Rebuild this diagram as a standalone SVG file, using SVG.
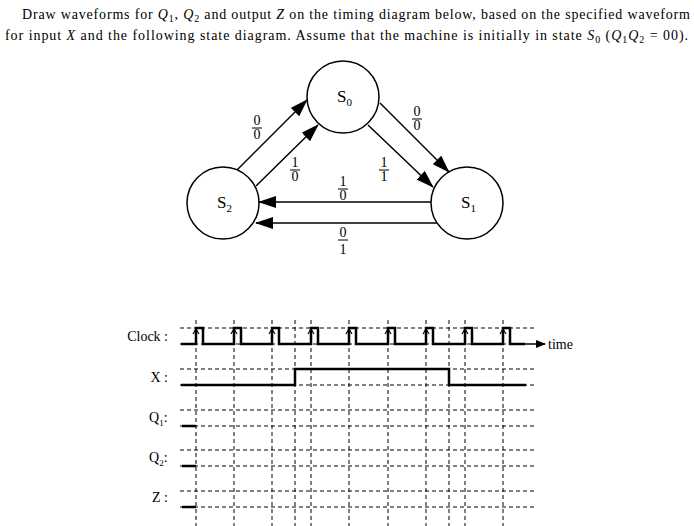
<svg xmlns="http://www.w3.org/2000/svg" width="694" height="526" viewBox="0 0 694 526">
<defs>
<marker id="ah" markerWidth="10" markerHeight="8" refX="9" refY="4" orient="auto" markerUnits="userSpaceOnUse"><path d="M0,0 L10,4 L0,8 z" fill="#000"/></marker>
<marker id="ah2" markerWidth="18" markerHeight="12" refX="17" refY="6" orient="auto" markerUnits="userSpaceOnUse"><path d="M0,0 L18,6 L0,12 z" fill="#000"/></marker>
</defs>
<style>
text{font-family:"Liberation Serif",serif;font-size:14px;fill:#000}
.st{fill:#fff;stroke:#000;stroke-width:1.5}
.e{stroke:#000;stroke-width:1.5;fill:none;marker-end:url(#ah2)}
.d{stroke:#000;stroke-width:1;stroke-dasharray:4,3;fill:none}
.w{stroke:#000;stroke-width:2.5;fill:none}
.f{font-size:14px;text-anchor:middle}
.fb{stroke:#000;stroke-width:1}
.s{font-size:17px}
</style>
<text x="22" y="19" font-size="15" textLength="668" lengthAdjust="spacing">Draw waveforms for <tspan font-style="italic">Q</tspan><tspan font-size="10" dy="3">1</tspan><tspan dy="-3">, </tspan><tspan font-style="italic">Q</tspan><tspan font-size="10" dy="3">2</tspan><tspan dy="-3"> and output </tspan><tspan font-style="italic">Z</tspan> on the timing diagram below, based on the specified waveform</text>
<text x="5" y="40" font-size="15" textLength="683" lengthAdjust="spacing">for input <tspan font-style="italic">X</tspan> and the following state diagram. Assume that the machine is initially in state <tspan font-style="italic">S</tspan><tspan font-size="10" dy="3">0</tspan><tspan dy="-3"> (</tspan><tspan font-style="italic">Q</tspan><tspan font-size="10" dy="3">1</tspan><tspan font-style="italic" dy="-3">Q</tspan><tspan font-size="10" dy="3">2</tspan><tspan dy="-3"> = 00).</tspan></text>

<g id="connectors">
<line class="e" x1="237" y1="170" x2="307" y2="100"/>
<line class="e" x1="256" y1="186" x2="318" y2="125"/>
<line class="e" x1="380" y1="103" x2="449" y2="172"/>
<line class="e" x1="368" y1="125" x2="433" y2="187"/>
<line class="e" x1="431" y1="202" x2="259" y2="202"/>
<line class="e" x1="437" y1="223" x2="256" y2="223"/>
</g>
<g id="labels">
<g><text class="f" x="257" y="125">0</text><line class="fb" x1="252" y1="128" x2="262" y2="128"/><text class="f" x="257" y="139">0</text></g>
<g><text class="f" x="295" y="167">1</text><line class="fb" x1="290" y1="170" x2="300" y2="170"/><text class="f" x="295" y="181">0</text></g>
<g><text class="f" x="417" y="116">0</text><line class="fb" x1="412" y1="119" x2="422" y2="119"/><text class="f" x="417" y="130">0</text></g>
<g><text class="f" x="384" y="167">1</text><line class="fb" x1="379" y1="170" x2="389" y2="170"/><text class="f" x="384" y="181">1</text></g>
<g><text class="f" x="343" y="186">1</text><line class="fb" x1="338" y1="189" x2="348" y2="189"/><text class="f" x="343" y="200">0</text></g>
<g><text class="f" x="343" y="237">0</text><line class="fb" x1="338" y1="240" x2="348" y2="240"/><text class="f" x="343" y="254">1</text></g>
</g>
<g id="S0"><circle class="st" cx="343" cy="97" r="36"/><text class="s" x="337" y="102">S<tspan font-size="11" dy="4">0</tspan></text></g>
<g id="S2"><circle class="st" cx="223" cy="203" r="36"/><text class="s" x="217" y="208">S<tspan font-size="11" dy="4">2</tspan></text></g>
<g id="S1"><circle class="st" cx="467" cy="203" r="36"/><text class="s" x="461" y="208">S<tspan font-size="11" dy="4">1</tspan></text></g>

<g id="timing">
<g class="d">
<line x1="180" y1="328" x2="535" y2="328"/><line x1="180" y1="344" x2="525" y2="344"/>
<line x1="180" y1="369" x2="535" y2="369"/><line x1="180" y1="385" x2="535" y2="385"/>
<line x1="180" y1="410" x2="535" y2="410"/><line x1="180" y1="426" x2="535" y2="426"/>
<line x1="180" y1="450" x2="535" y2="450"/><line x1="180" y1="466" x2="535" y2="466"/>
<line x1="180" y1="491" x2="535" y2="491"/><line x1="180" y1="507" x2="535" y2="507"/>
<line x1="196" y1="320" x2="196" y2="526"/><line x1="234" y1="320" x2="234" y2="526"/>
<line x1="272" y1="320" x2="272" y2="526"/><line x1="311" y1="320" x2="311" y2="526"/>
<line x1="349" y1="320" x2="349" y2="526"/><line x1="388" y1="320" x2="388" y2="526"/>
<line x1="426" y1="320" x2="426" y2="526"/><line x1="465" y1="320" x2="465" y2="526"/>
<line x1="503" y1="320" x2="503" y2="526"/>
<line x1="295" y1="320" x2="295" y2="526"/><line x1="449" y1="320" x2="449" y2="526"/>
</g>
<path class="w" d="M181,344 H196 V328 H203 V344 H234 V328 H241 V344 H272 V328 H279 V344 H311 V328 H318 V344 H349 V328 H356 V344 H388 V328 H395 V344 H426 V328 H433 V344 H465 V328 H472 V344 H503 V328 H510 V344 H525"/>
<line x1="525" y1="344" x2="545" y2="344" stroke="#000" stroke-width="1.5" marker-end="url(#ah)"/>
<g stroke="#000" stroke-width="1.2" fill="none">
<path d="M196,342 V331 M193,334 L196,329 L199,334"/><path d="M234,342 V331 M231,334 L234,329 L237,334"/>
<path d="M272,342 V331 M269,334 L272,329 L275,334"/><path d="M311,342 V331 M308,334 L311,329 L314,334"/>
<path d="M349,342 V331 M346,334 L349,329 L352,334"/><path d="M388,342 V331 M385,334 L388,329 L391,334"/>
<path d="M426,342 V331 M423,334 L426,329 L429,334"/><path d="M465,342 V331 M462,334 L465,329 L468,334"/>
<path d="M503,342 V331 M500,334 L503,329 L506,334"/>
</g>
<text x="548" y="349">time</text>
<path class="w" d="M181,385 H295 V369 H449 V385 H526"/>
<path class="w" d="M182,426 H196 M182,466 H196 M182,507 H196"/>
<text x="168" y="341" text-anchor="end" font-size="13">Clock :</text>
<text x="168" y="382" text-anchor="end" font-size="13">X :</text>
<text x="149" y="422" font-size="13">Q<tspan font-size="9" dy="4">1</tspan><tspan dy="-4">:</tspan></text>
<text x="149" y="462" font-size="13">Q<tspan font-size="9" dy="4">2</tspan><tspan dy="-4">:</tspan></text>
<text x="168" y="502" text-anchor="end" font-size="13">Z :</text>
</g>
</svg>
